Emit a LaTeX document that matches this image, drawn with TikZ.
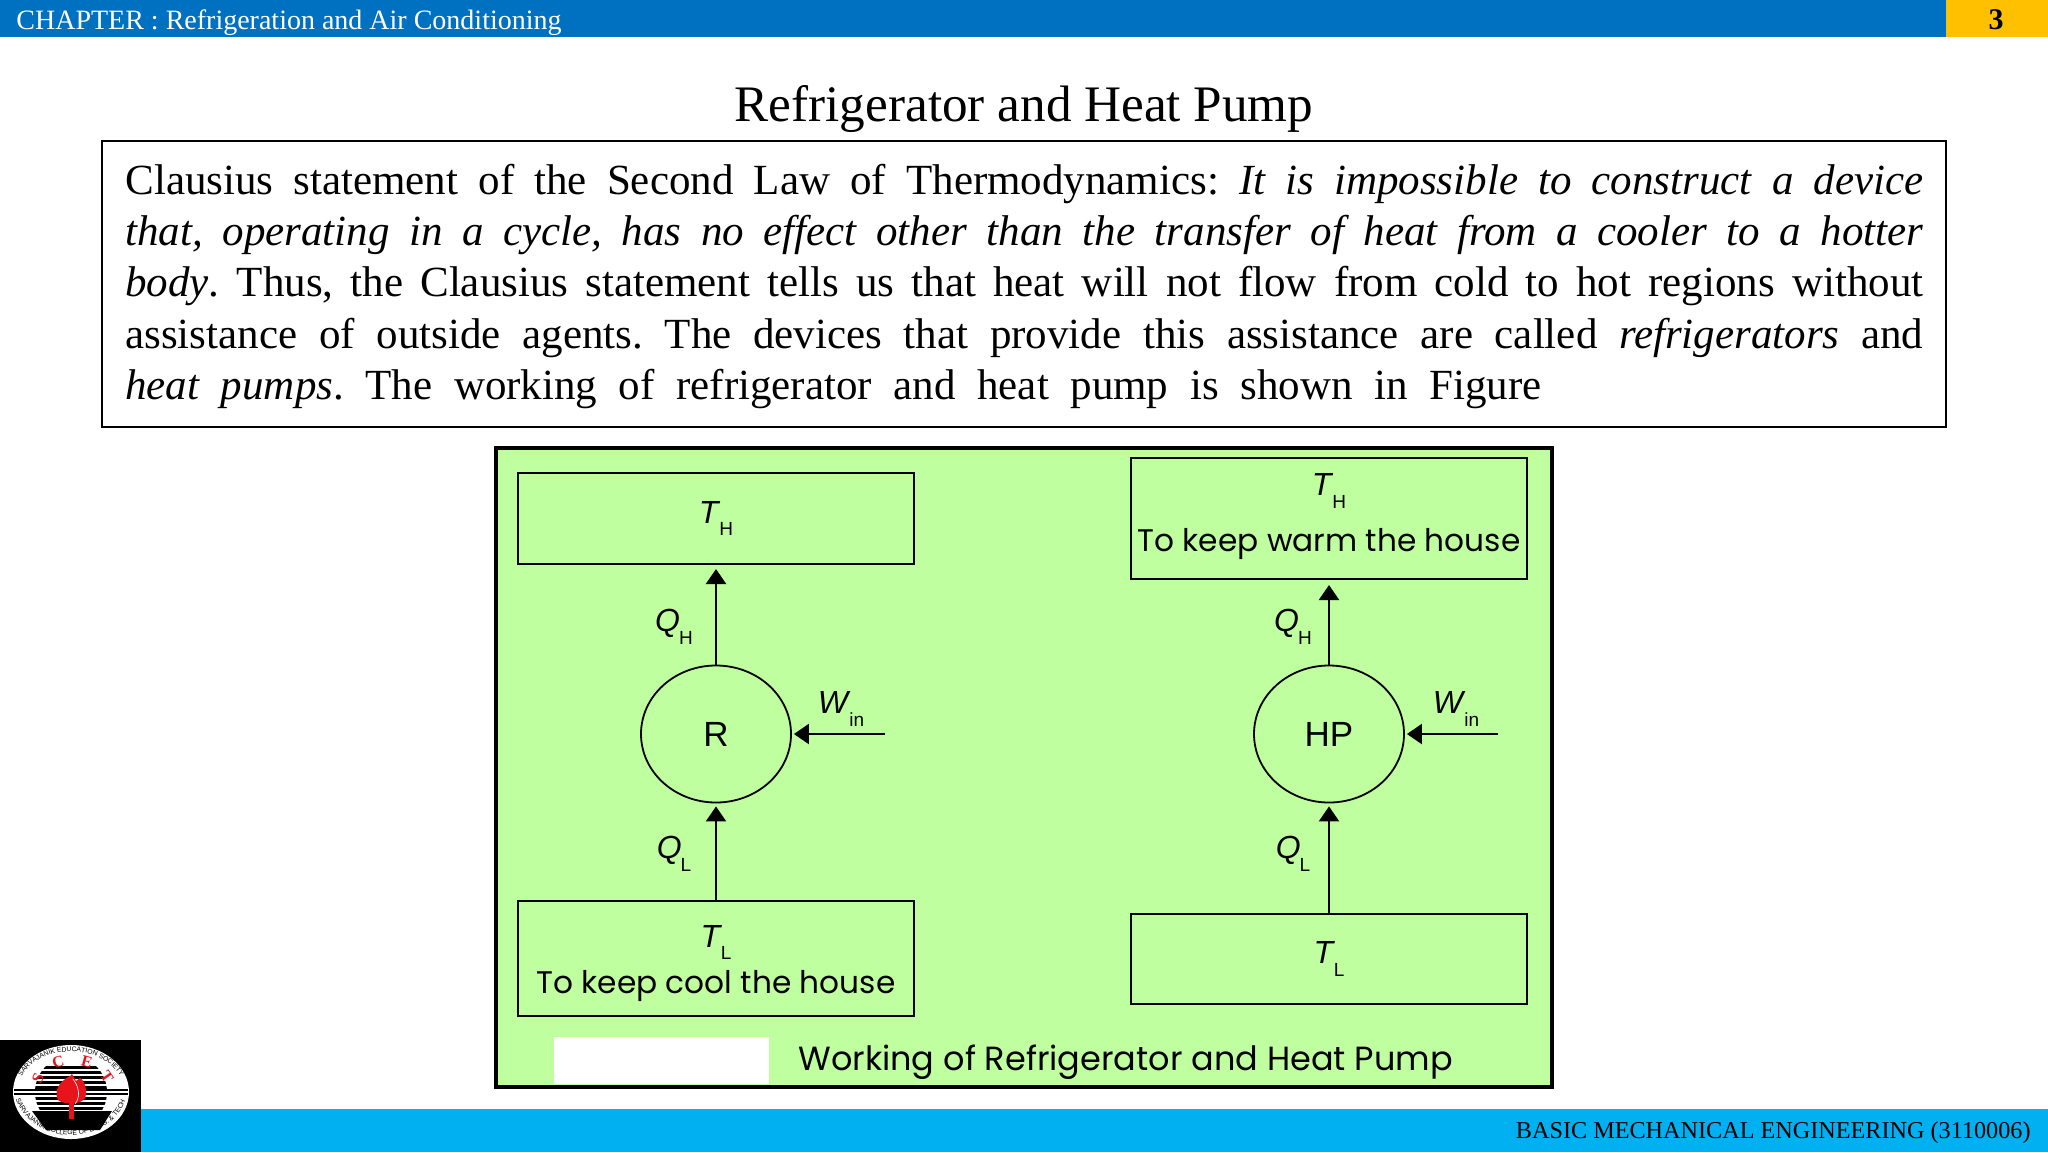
\documentclass[tikz,border=0pt]{standalone}
\usepackage{fontspec}
\setmainfont{Liberation Serif}
\newfontfamily\armfont{Liberation Sans}
\newfontfamily\roundfont{Poppins}
\usetikzlibrary{arrows.meta, shapes.geometric, decorations.text}

\definecolor{barblue}{HTML}{0070C0}
\definecolor{baryellow}{HTML}{FFC000}
\definecolor{footblue}{HTML}{00B0F0}
\definecolor{panelgreen}{HTML}{BFFFA0}
\definecolor{tulipred}{HTML}{E8141C}

\newcommand{\fsz}[1]{\fontsize{#1}{1.2\dimexpr #1pt\relax}\selectfont}
\newcommand{\quant}[2]{\textit{#1}\kern-0.5pt\raisebox{-0.75ex}{\fsz{9.5}#2}}

\tikzset{
    resbox/.style={draw=black, fill=panelgreen, line width=1pt, minimum width=198pt, inner sep=0pt, align=center, font=\armfont\fsz{16}},
    devcirc/.style={draw=black, ellipse, line width=0.9pt, minimum width=75pt, minimum height=68.5pt, inner sep=0pt, font=\armfont\fsz{17.5}},
    flowarrow/.style={line width=1.1pt, -{Triangle[length=7.5pt, width=10pt]}},
    quantlabel/.style={font=\armfont\fsz{16}, inner sep=0pt},
    seclabel/.style={font=\fsz{8}\bfseries, text=tulipred, inner sep=0pt}
}

\begin{document}
\begin{tikzpicture}[x=0.5pt, y=-0.5pt]

    \useasboundingbox (0,0) rectangle (2048,1152);

    % bars
    \fill[barblue] (0,0) rectangle (1946,37);
    \fill[baryellow] (1946,0) rectangle (2048,37);
    \fill[footblue] (141,1109) rectangle (2048,1152);
    \node[anchor=west, text=white, font=\fsz{14}, inner sep=0pt] (chapter) at (16,22.5) {CHAPTER : Refrigeration and Air Conditioning};
    \node[font=\fsz{15}\bfseries, inner sep=0pt] (pageno) at (1996,20) {3};
    \node[anchor=east, font=\fsz{12.1}, inner sep=0pt] (course) at (2031,1133) {BASIC MECHANICAL ENGINEERING (3110006)};

    \node[font=\fsz{25.6}, inner sep=0pt] (title) at (1024,109) {Refrigerator and Heat Pump};

    % statement
    \draw[line width=1pt] (102,141) rectangle (1946,427);
    \node[anchor=north west, text width=899pt, inner sep=0pt, align=justify, font=\fontsize{21.5}{25.7}\selectfont\frenchspacing] (statement) at (125,163.5) {%
        Clausius statement of the Second Law of Thermodynamics: \textit{It is impossible to construct a device}\linebreak
        \textit{that, operating in a cycle, has no effect other than the transfer of heat from a cooler to a hotter}\linebreak
        \textit{body}. Thus, the Clausius statement tells us that heat will not flow from cold to hot regions without\linebreak
        assistance of outside agents. The devices that provide this assistance are called \textit{refrigerators} and\linebreak
        \makebox[708pt][s]{\textit{heat pumps}. The working of refrigerator and heat pump is shown in Figure}};

    % panel
    \draw[line width=2.2pt, fill=panelgreen] (496,448) rectangle (1552,1087);
    \fill[white] (554,1037) rectangle (769,1084);

    % refrigerator
    \node[resbox, minimum height=45.5pt] (rhot) at (716,518.5) {\quant{T}{H}};
    \node[resbox, minimum height=57.5pt] (rcold) at (716,958.5) {\rule{0pt}{16pt}\quant{T}{L}\\[4pt]\roundfont\fsz{15.6}To keep cool the house};
    \node[devcirc] (rdev) at (716,734) {R};
    \coordinate (rwork) at (885,734);
    \draw[flowarrow, shorten >=2pt] (rdev) -- (rhot);
    \draw[flowarrow, shorten >=1.5pt] (rcold) -- (rdev);
    \draw[flowarrow, shorten >=1pt] (rwork) -- (rdev);

    % heat pump
    \node[resbox, minimum height=60.5pt] (hphot) at (1329,518.5) {\quant{T}{H}\\[8.5pt]\roundfont\fsz{15.6}\rule[-6pt]{0pt}{0pt}To keep warm the house};
    \node[resbox, minimum height=45pt] (hpcold) at (1329,959) {\quant{T}{L}};
    \node[devcirc] (hpdev) at (1329,734) {HP};
    \coordinate (hpwork) at (1498,734);
    \draw[flowarrow, shorten >=2.5pt] (hpdev) -- (hphot);
    \draw[flowarrow, shorten >=1.5pt] (hpcold) -- (hpdev);
    \draw[flowarrow, shorten >=1pt] (hpwork) -- (hpdev);

    \foreach \x/\y/\sym/\sub/\nme in {
        674/627/Q/H/rqh,
        674/854/Q/L/rql,
        841/709/W/in/rwin,
        1293/627/Q/H/hpqh,
        1293/854/Q/L/hpql,
        1456/709/W/in/hpwin%
    } {
        \node[quantlabel] (\nme) at (\x,\y) {\quant{\sym}{\sub}};
    }

    \node[anchor=west, inner sep=0pt, font=\roundfont\fsz{16.75}] (caption) at (798,1062) {Working of Refrigerator and Heat Pump};

    % logo
    \fill[black] (0,1040) rectangle (141,1152);
    \fill[white] (71,1092) ellipse[x radius=58, y radius=47];
    \begin{scope}
        \clip (71,1092) circle[radius=36];
        \foreach \y in {1067,1072,1077,1082,1087,1098,1103,1108,1112} {
            \fill[black] (30,\y-1.5) rectangle (112,\y+1.5);
        }
    \end{scope}
    \fill[black] (14,1089) rectangle (128,1091);
    \fill[black] (14,1093) rectangle (128,1095);
    \begin{scope}
        \clip (71,1092) ellipse[x radius=58, y radius=47];
        \fill[black] (32,1111) -- (112,1111) -- (100,1130) -- (46,1130) -- cycle;
    \end{scope}
    \fill[tulipred] (69,1100) rectangle (74,1119);
    \fill[tulipred] (70,1076) .. controls (58,1082) and (54,1092) .. (58,1100) .. controls (62,1104) and (80,1106) .. (85,1098) .. controls (88,1090) and (84,1080) .. (80,1078) -- (76,1081) -- (72,1074) -- cycle;
    \draw[white, line width=0.3pt] (73,1079) .. controls (80,1088) and (80,1098) .. (75,1104);
    \path[postaction={decorate}, decoration={text along path, text align=center, text={|\armfont\fsz{3.4}|SARVAJANIK EDUCATION SOCIETY}}]
        (20,1080) .. controls (37,1042) and (105,1042) .. (122,1080);
    \path[postaction={decorate}, decoration={text along path, text align=center, text={|\armfont\fsz{3.4}|SARVAJANIK COLLEGE OF ENGG. {\&} TECH.}}]
        (17,1102) .. controls (35,1146) and (107,1146) .. (125,1102);
    \node[seclabel, rotate=65] (logos) at (38,1078) {S};
    \node[seclabel, rotate=15] (logoc) at (58,1062) {C};
    \node[seclabel, rotate=-15] (logoe) at (87,1062) {E};
    \node[seclabel, rotate=-55] (logot) at (107,1077) {T};

\end{tikzpicture}
\end{document}
